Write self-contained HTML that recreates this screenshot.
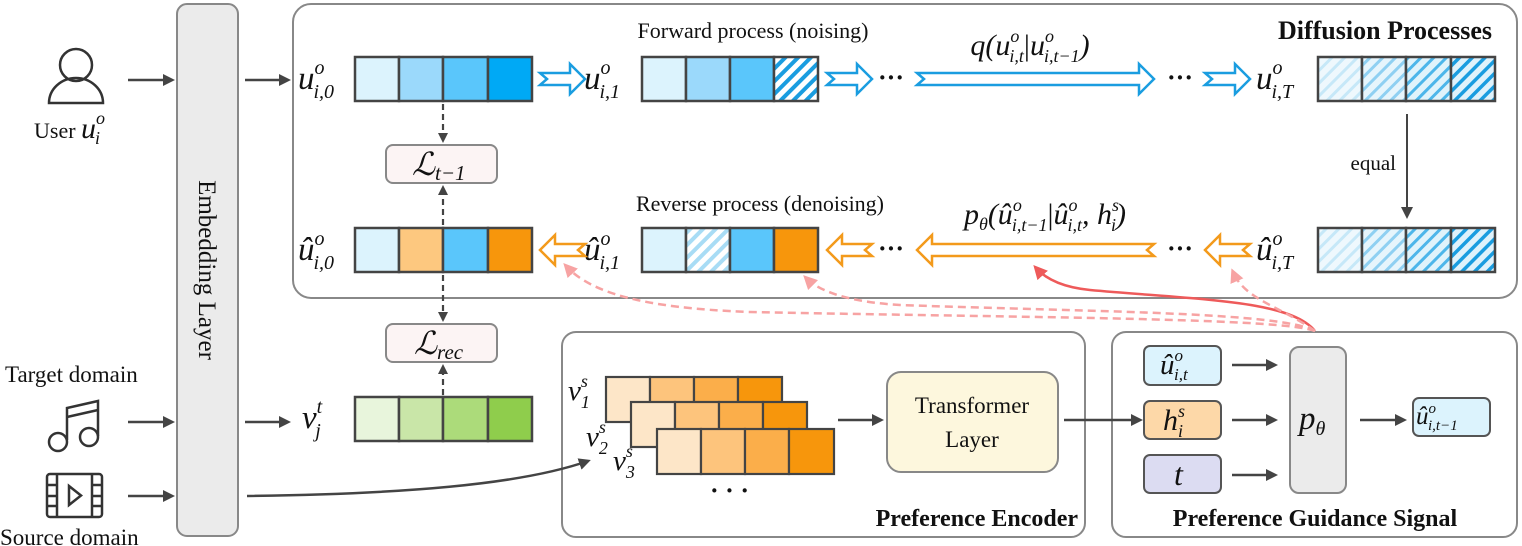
<!DOCTYPE html>
<html><head><meta charset="utf-8"><style>
html,body{margin:0;padding:0;background:#fff;}
svg{display:block;}
text{font-family:"Liberation Serif",serif;fill:#111;}
.m{font-style:italic;}
</style></head><body>
<svg width="1522" height="546" viewBox="0 0 1522 546" xmlns="http://www.w3.org/2000/svg">
<defs>
<marker id="ah" markerWidth="12" markerHeight="12" refX="9" refY="6" orient="auto" markerUnits="userSpaceOnUse"><path d="M0,0 L12,6 L0,12 Z" fill="#444"/></marker>
<marker id="ahs" markerWidth="10" markerHeight="10" refX="8" refY="5" orient="auto" markerUnits="userSpaceOnUse"><path d="M0,0 L10,5 L0,10 Z" fill="#444"/></marker>
<marker id="ahr" markerWidth="14" markerHeight="14" refX="10" refY="7" orient="auto" markerUnits="userSpaceOnUse"><path d="M0,0 L14,7 L0,14 Z" fill="#ee5a5a"/></marker>
<marker id="ahp" markerWidth="14" markerHeight="14" refX="10" refY="7" orient="auto" markerUnits="userSpaceOnUse"><path d="M0,0 L14,7 L0,14 Z" fill="#f7a3a3"/></marker>
<pattern id="h1" width="9" height="9" patternUnits="userSpaceOnUse" patternTransform="rotate(45)"><rect width="9" height="9" fill="#fff"/><rect width="4" height="9" fill="#1a9de0"/></pattern>
<pattern id="h2" width="9" height="9" patternUnits="userSpaceOnUse" patternTransform="rotate(45)"><rect width="9" height="9" fill="#fff"/><rect width="4" height="9" fill="#a8dcf5"/></pattern>
<pattern id="t1" width="9" height="9" patternUnits="userSpaceOnUse" patternTransform="rotate(45)"><rect width="9" height="9" fill="#eef8fd"/><rect width="3" height="9" fill="#c6e8f8"/></pattern>
<pattern id="t2" width="9" height="9" patternUnits="userSpaceOnUse" patternTransform="rotate(45)"><rect width="9" height="9" fill="#e6f5fc"/><rect width="3" height="9" fill="#8fd0f2"/></pattern>
<pattern id="t3" width="9" height="9" patternUnits="userSpaceOnUse" patternTransform="rotate(45)"><rect width="9" height="9" fill="#e0f3fb"/><rect width="3" height="9" fill="#4db6ea"/></pattern>
<pattern id="t4" width="9" height="9" patternUnits="userSpaceOnUse" patternTransform="rotate(45)"><rect width="9" height="9" fill="#dff2fb"/><rect width="3.5" height="9" fill="#1a9de0"/></pattern>
</defs>

<!-- Embedding layer -->
<rect x="177" y="4" width="61" height="532" rx="10" fill="#ebebeb" stroke="#888" stroke-width="2"/>
<text transform="translate(199,270) rotate(90)" font-size="25" text-anchor="middle">Embedding Layer</text>

<!-- Diffusion box -->
<rect x="293" y="4" width="1224" height="294" rx="18" fill="#fff" stroke="#888" stroke-width="2"/>
<text x="1492" y="39" font-size="26" font-weight="bold" text-anchor="end">Diffusion Processes</text>

<!-- User icon -->
<circle cx="76" cy="65" r="16" fill="none" stroke="#333" stroke-width="2.5"/>
<path d="M49,103 A27,25 0 0 1 103,103 Z" fill="none" stroke="#333" stroke-width="2.5"/>
<text x="34" y="138" font-size="22">User <tspan class="m" font-size="30">u</tspan><tspan class="m" font-size="18" dy="-14">o</tspan><tspan class="m" font-size="18" dx="-10" dy="20">i</tspan></text>
<line x1="128" y1="80" x2="172" y2="80" stroke="#444" stroke-width="2.5" marker-end="url(#ah)"/>
<line x1="245" y1="80" x2="288" y2="80" stroke="#444" stroke-width="2.5" marker-end="url(#ah)"/>

<!-- Target/Source -->
<text x="5" y="382" font-size="23">Target domain</text>
<g fill="none" stroke="#333" stroke-width="2.5">
<path d="M67,440 V408 L98,401 V436"/><path d="M67,417 L98,410"/>
<circle cx="58" cy="442" r="9"/><circle cx="89" cy="437" r="9"/>
<rect x="47" y="474" width="55" height="43" rx="3"/>
<line x1="57" y1="474" x2="57" y2="517"/><line x1="92" y1="474" x2="92" y2="517"/>
<line x1="47" y1="485" x2="57" y2="485"/><line x1="47" y1="496" x2="57" y2="496"/><line x1="47" y1="506" x2="57" y2="506"/>
<line x1="92" y1="485" x2="102" y2="485"/><line x1="92" y1="496" x2="102" y2="496"/><line x1="92" y1="506" x2="102" y2="506"/>
<path d="M69,486 L81,495.5 L69,505 Z"/>
</g>
<text x="0" y="545" font-size="23">Source domain</text>
<line x1="128" y1="422" x2="172" y2="422" stroke="#444" stroke-width="2.5" marker-end="url(#ah)"/>
<line x1="128" y1="496" x2="172" y2="496" stroke="#444" stroke-width="2.5" marker-end="url(#ah)"/>
<line x1="245" y1="422" x2="288" y2="422" stroke="#444" stroke-width="2.5" marker-end="url(#ah)"/>

<!-- Vectors -->
<g stroke="#444" stroke-width="2.5">
<rect x="355" y="57" width="44" height="44" fill="#dcf3fd"/><rect x="399" y="57" width="44" height="44" fill="#9bd9fb"/><rect x="443" y="57" width="45" height="44" fill="#5ac6fb"/><rect x="488" y="57" width="44" height="44" fill="#00a9f5"/>
<rect x="642" y="57" width="44" height="44" fill="#dcf3fd"/><rect x="686" y="57" width="44" height="44" fill="#9bd9fb"/><rect x="730" y="57" width="44" height="44" fill="#5ac6fb"/><rect x="774" y="57" width="44" height="44" fill="url(#h1)"/>
<rect x="1318" y="57" width="44" height="44" fill="url(#t1)"/><rect x="1362" y="57" width="44" height="44" fill="url(#t2)"/><rect x="1406" y="57" width="45" height="44" fill="url(#t3)"/><rect x="1451" y="57" width="44" height="44" fill="url(#t4)"/>
<rect x="1318" y="228" width="44" height="44" fill="url(#t1)"/><rect x="1362" y="228" width="44" height="44" fill="url(#t2)"/><rect x="1406" y="228" width="45" height="44" fill="url(#t3)"/><rect x="1451" y="228" width="44" height="44" fill="url(#t4)"/>
<rect x="642" y="228" width="44" height="44" fill="#dcf3fd"/><rect x="686" y="228" width="44" height="44" fill="url(#h2)"/><rect x="730" y="228" width="44" height="44" fill="#5ac6fb"/><rect x="774" y="228" width="44" height="44" fill="#f7960c"/>
<rect x="355" y="228" width="44" height="44" fill="#dcf3fd"/><rect x="399" y="228" width="44" height="44" fill="#fdc87f"/><rect x="443" y="228" width="45" height="44" fill="#5ac6fb"/><rect x="488" y="228" width="44" height="44" fill="#f7960c"/>
<rect x="355" y="397" width="44" height="44" fill="#e8f5dc"/><rect x="399" y="397" width="44" height="44" fill="#c9e6a8"/><rect x="443" y="397" width="45" height="44" fill="#acdb7a"/><rect x="488" y="397" width="44" height="44" fill="#8fcd4c"/>
</g>

<!-- labels vectors -->
<g font-size="33">
<text x="298" y="89" class="m">u<tspan font-size="20" dy="-15">o</tspan><tspan font-size="20" dx="-11" dy="24">i,0</tspan></text>
<text x="584" y="89" class="m">u<tspan font-size="20" dy="-15">o</tspan><tspan font-size="20" dx="-11" dy="24">i,1</tspan></text>
<text x="1256" y="89" class="m">u<tspan font-size="20" dy="-15">o</tspan><tspan font-size="20" dx="-11" dy="24">i,T</tspan></text>
<text x="298" y="260" class="m">û<tspan font-size="20" dy="-15">o</tspan><tspan font-size="20" dx="-11" dy="24">i,0</tspan></text>
<text x="584" y="260" class="m">û<tspan font-size="20" dy="-15">o</tspan><tspan font-size="20" dx="-11" dy="24">i,1</tspan></text>
<text x="1256" y="260" class="m">û<tspan font-size="20" dy="-15">o</tspan><tspan font-size="20" dx="-11" dy="24">i,T</tspan></text>
<text x="302" y="428" class="m">v<tspan font-size="20" dy="-15">t</tspan><tspan font-size="20" dx="-7" dy="24">j</tspan></text>
</g>

<!-- Forward / reverse labels -->
<text x="753" y="38" font-size="22" text-anchor="middle">Forward process (noising)</text>
<text x="760" y="211" font-size="22" text-anchor="middle">Reverse process (denoising)</text>
<text x="1030" y="55" font-size="30" text-anchor="middle" class="m">q(u<tspan font-size="18" dy="-13">o</tspan><tspan font-size="18" dx="-10" dy="20">i,t</tspan><tspan dy="-7" font-style="normal">|</tspan>u<tspan font-size="18" dy="-13">o</tspan><tspan font-size="18" dx="-10" dy="20">i,t−1</tspan><tspan dy="-7">)</tspan></text>
<text x="1045" y="224" font-size="30" text-anchor="middle" class="m">p<tspan font-size="18" dy="6">θ</tspan><tspan dy="-6">(û</tspan><tspan font-size="18" dy="-13">o</tspan><tspan font-size="18" dx="-10" dy="20">i,t−1</tspan><tspan dy="-7" font-style="normal">|</tspan>û<tspan font-size="18" dy="-13">o</tspan><tspan font-size="18" dx="-10" dy="20">i,t</tspan><tspan dy="-7">, h</tspan><tspan font-size="18" dy="-13">s</tspan><tspan font-size="18" dx="-8" dy="20">i</tspan><tspan dy="-7">)</tspan></text>

<!-- dots -->
<g font-size="26" font-weight="bold"><text x="878" y="86">···</text><text x="1167" y="86">···</text><text x="878" y="257">···</text><text x="1167" y="257">···</text></g>

<!-- Blue hollow arrows -->
<g fill="#fff" stroke="#1a9de0" stroke-width="2.5">
<path d="M540,73 L570,73 L570,64 L585,79 L570,94 L570,85 L540,85 L547,79 Z"/>
<path d="M827,73 L857,73 L857,64 L872,79 L857,94 L857,85 L827,85 L834,79 Z"/>
<path d="M917,73 L1139,73 L1139,64 L1154,79 L1139,94 L1139,85 L917,85 L924,79 Z"/>
<path d="M1205,73 L1235,73 L1235,64 L1250,79 L1235,94 L1235,85 L1205,85 L1212,79 Z"/>
</g>
<g fill="#fff" stroke="#f39a1b" stroke-width="2.5">
<path d="M585,244 L555,244 L555,235 L540,250 L555,265 L555,256 L585,256 L578,250 Z"/>
<path d="M872,244 L842,244 L842,235 L827,250 L842,265 L842,256 L872,256 L865,250 Z"/>
<path d="M1154,244 L932,244 L932,235 L917,250 L932,265 L932,256 L1154,256 L1147,250 Z"/>
<path d="M1250,244 L1220,244 L1220,235 L1205,250 L1220,265 L1220,256 L1250,256 L1243,250 Z"/>
</g>

<!-- equal -->
<line x1="1407" y1="114" x2="1407" y2="216" stroke="#444" stroke-width="2" marker-end="url(#ah)"/>
<text x="1396" y="170" font-size="21" text-anchor="end">equal</text>

<!-- losses -->
<rect x="386" y="145" width="111" height="38" rx="7" fill="#fcf4f4" stroke="#888" stroke-width="2"/>
<text x="412" y="175" font-size="32" class="m">ℒ<tspan font-size="21" dy="5">t−1</tspan></text>
<rect x="386" y="324" width="111" height="38" rx="7" fill="#fcf4f4" stroke="#888" stroke-width="2"/>
<text x="414" y="354" font-size="32" class="m">ℒ<tspan font-size="21" dy="5">rec</tspan></text>
<g stroke="#444" stroke-width="2.2" stroke-dasharray="6,4" fill="none">
<line x1="443" y1="104" x2="443" y2="141" marker-end="url(#ahs)"/>
<line x1="443" y1="225" x2="443" y2="187" marker-end="url(#ahs)"/>
<line x1="443" y1="275" x2="443" y2="320" marker-end="url(#ahs)"/>
<line x1="443" y1="395" x2="443" y2="366" marker-end="url(#ahs)"/>
</g>

<!-- Preference encoder -->
<rect x="562" y="332" width="523" height="205" rx="14" fill="#fff" stroke="#888" stroke-width="2"/>
<text x="1078" y="526" font-size="24" font-weight="bold" text-anchor="end">Preference Encoder</text>
<g stroke="#444" stroke-width="2.2">
<rect x="606" y="377" width="44" height="45" fill="#fde6c8"/><rect x="650" y="377" width="44" height="45" fill="#fdc47c"/><rect x="694" y="377" width="44" height="45" fill="#fbae4a"/><rect x="738" y="377" width="44" height="45" fill="#f7960c"/>
<rect x="631" y="402" width="44" height="45" fill="#fde6c8"/><rect x="675" y="402" width="44" height="45" fill="#fdc47c"/><rect x="719" y="402" width="44" height="45" fill="#fbae4a"/><rect x="763" y="402" width="44" height="45" fill="#f7960c"/>
<rect x="657" y="429" width="44" height="45" fill="#fde6c8"/><rect x="701" y="429" width="44" height="45" fill="#fdc47c"/><rect x="745" y="429" width="44" height="45" fill="#fbae4a"/><rect x="789" y="429" width="45" height="45" fill="#f7960c"/>
</g>
<g font-size="29">
<text x="568" y="400" class="m">v<tspan font-size="18" dy="-13">s</tspan><tspan font-size="18" dx="-7" dy="21">1</tspan></text>
<text x="586" y="446" class="m">v<tspan font-size="18" dy="-13">s</tspan><tspan font-size="18" dx="-7" dy="21">2</tspan></text>
<text x="613" y="470" class="m">v<tspan font-size="18" dy="-13">s</tspan><tspan font-size="18" dx="-7" dy="21">3</tspan></text>
</g>
<text x="710" y="499" font-size="26" font-weight="bold">· · ·</text>
<line x1="838" y1="420" x2="881" y2="420" stroke="#444" stroke-width="2.5" marker-end="url(#ah)"/>
<rect x="887" y="372" width="171" height="100" rx="14" fill="#fdf7dd" stroke="#888" stroke-width="2"/>
<text x="972" y="413" font-size="23" text-anchor="middle">Transformer</text>
<text x="972" y="447" font-size="23" text-anchor="middle">Layer</text>

<!-- curve from source to v2 -->
<path d="M247,496 C400,494 520,485 588,461" fill="none" stroke="#444" stroke-width="2.5" marker-end="url(#ah)"/>

<!-- Guidance -->
<rect x="1112" y="332" width="405" height="205" rx="14" fill="#fff" stroke="#888" stroke-width="2"/>
<line x1="1064" y1="420" x2="1140" y2="420" stroke="#444" stroke-width="2.5" marker-end="url(#ah)"/>
<text x="1315" y="526" font-size="24" font-weight="bold" text-anchor="middle">Preference Guidance Signal</text>
<rect x="1144" y="346" width="77" height="39" rx="6" fill="#dcf3fd" stroke="#555" stroke-width="2"/>
<rect x="1144" y="401" width="77" height="38" rx="6" fill="#fdd8a8" stroke="#555" stroke-width="2"/>
<rect x="1144" y="455" width="77" height="38" rx="6" fill="#dcdcf2" stroke="#555" stroke-width="2"/>
<text x="1160" y="374" font-size="29" class="m">û<tspan font-size="17" dy="-13">o</tspan><tspan font-size="17" dx="-9" dy="19">i,t</tspan></text>
<text x="1163" y="430" font-size="30" class="m">h<tspan font-size="18" dy="-13">s</tspan><tspan font-size="18" dx="-7" dy="20">i</tspan></text>
<text x="1174" y="485" font-size="32" class="m">t</text>
<g stroke="#444" stroke-width="2.5">
<line x1="1232" y1="365" x2="1275" y2="365" marker-end="url(#ah)"/>
<line x1="1232" y1="420" x2="1275" y2="420" marker-end="url(#ah)"/>
<line x1="1232" y1="475" x2="1275" y2="475" marker-end="url(#ah)"/>
<line x1="1360" y1="420" x2="1404" y2="420" marker-end="url(#ah)"/>
</g>
<rect x="1290" y="347" width="56" height="146" rx="9" fill="#ebebeb" stroke="#888" stroke-width="2"/>
<text x="1299" y="429" font-size="33" class="m">p<tspan font-size="20" dy="6">θ</tspan></text>
<rect x="1413" y="398" width="77" height="38" rx="6" fill="#dcf3fd" stroke="#555" stroke-width="2"/>
<text x="1416" y="424" font-size="25" class="m">û<tspan font-size="15" dy="-11">o</tspan><tspan font-size="15" dx="-8" dy="17">i,t−1</tspan></text>

<!-- Red guidance arrows -->
<g fill="none" stroke-width="2.5">
<path d="M1315,331 C1290,300 1200,300 1090,290 C1060,287 1045,278 1036,268" stroke="#ee5a5a" marker-end="url(#ahr)"/>
<g stroke="#f7a3a3" stroke-dasharray="8,5">
<path d="M1315,331 C1280,306 1245,300 1233,272" marker-end="url(#ahp)"/>
<path d="M1315,331 C1280,312 1100,312 900,305 C850,302 820,292 806,278" marker-end="url(#ahp)"/>
<path d="M1315,331 C1280,318 1050,318 750,312 C640,308 590,292 566,266" marker-end="url(#ahp)"/>
</g>
</g>
</svg>
</body></html>
